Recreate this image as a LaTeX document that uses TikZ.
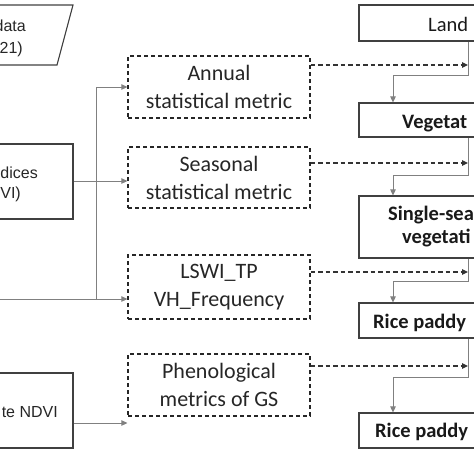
\documentclass[tikz,border=0pt]{standalone}
\usepackage{fontspec}
\setmainfont{Carlito}
\newfontfamily\arialf{Liberation Sans}
\usetikzlibrary{arrows.meta,calc}
\begin{document}
\begin{tikzpicture}[x=1pt,y=-1pt,
  box/.style={draw=black!75,line width=1.1pt,inner sep=0pt},
  dbox/.style={draw=black!85,line width=1.2pt,dash pattern=on 4pt off 3pt,inner sep=0pt,align=center,font=\fontsize{22}{28}\selectfont,text=black!85,minimum width=182,minimum height=62},
  conn/.style={draw=black!50,line width=0.9pt},
  arr/.style={-{Triangle[length=6pt,width=5.5pt]}},
  dconn/.style={draw=black!80,line width=1.1pt,dash pattern=on 4.5pt off 3pt,-{Triangle[length=6pt,width=5.5pt]}},
  lt/.style={font=\arialf\fontsize{16}{19}\selectfont,inner sep=0pt,anchor=base east,text=black!85},
  rt/.style={font=\fontsize{20.5}{24}\selectfont,inner sep=0pt,anchor=base west,text=black!90},
  rtb/.style={rt,font=\bfseries\fontsize{20.5}{24}\selectfont}]

\useasboundingbox (0,0) rectangle (474,474);
\clip (0,0) rectangle (474,474);

% left input boxes
\draw[box] (-60,5) coordinate (par) -- (73,5) -- (57,65) -- (-76,65) -- cycle;
\node[lt] (t1) at (26,31) {data};
\node[lt] (t2) at (23,53) {21)};
\node[box,minimum width=173,minimum height=75] (ind) at (-13.5,181.5) {};
\node[lt] (t3) at (38,178) {dices};
\node[lt] (t4) at (21,198) {VI)};
\node[box,minimum width=173,minimum height=75] (ndvi) at (-13.5,410.5) {};
\node[lt] (t5) at (58,417) {te NDVI};

% middle dashed boxes
\node[dbox] (annual) at (219,87) {Annual\\statistical metric};
\node[dbox,minimum height=61] (seasonal) at (219,177.5) {Seasonal\\statistical metric};
\node[dbox,minimum height=64] (lswi) at (219,287) {LSWI\_TP\\VH\_Frequency};
\node[dbox] (pheno) at (219,385) {Phenological\\metrics of GS};

% right boxes
\node[box,minimum width=241,minimum height=36] (land) at (479.5,23) {};
\node[rt] (tl) at (428,31) {Land};
\node[box,minimum width=241,minimum height=34] (veg) at (479.5,120) {};
\node[rtb] (tv) at (402,128) {Vegetat};
\node[box,minimum width=241,minimum height=62] (single) at (479.5,227) {};
\node[rtb] (ts1) at (388,220) {Single-sea};
\node[rtb] (ts2) at (402,243) {vegetati};
\node[box,minimum width=241,minimum height=35] (rice1) at (479.5,320.5) {};
\node[rtb] (tr1) at (373,328) {Rice paddy};
\node[box,minimum width=241,minimum height=35] (rice2) at (479.5,430.5) {};
\node[rtb] (tr2) at (375,437) {Rice paddy};

% left connectors
\coordinate (src) at (0,299);
\coordinate (jn) at (96,299);
\draw[conn,arr] (src) -- (src -| lswi.west);
\draw[conn,arr] (jn) |- (annual.west);
\draw[conn,arr] ([yshift=0.5pt]ind.east) -- ([yshift=0.5pt]ind.east -| seasonal.west);
\draw[conn,arr] ([yshift=-12.5pt]ndvi.east) -- ([yshift=-12.5pt]ndvi.east -| pheno.west);

% right trunk
\coordinate (bx) at (393,0);
\coordinate (d1) at (468,65);  \coordinate (b1) at (468,75);
\coordinate (d2) at (468,163); \coordinate (b2) at (468,175);
\coordinate (d3) at (468,272); \coordinate (b3) at (468,281);
\coordinate (d4) at (468,366); \coordinate (b4) at (468,377);

\draw[conn,arr] (land.south -| b1) -- (b1) -| (veg.north -| bx);
\draw[conn,arr] (veg.south -| b2) -- (b2) -| (single.north -| bx);
\draw[conn,arr] (single.south -| b3) -- (b3) -| (rice1.north -| bx);
\draw[conn,arr] (rice1.south -| b4) -- (b4) -| (rice2.north -| bx);

\draw[dconn] (annual.east |- d1) -- (d1);
\draw[dconn] (seasonal.east |- d2) -- (d2);
\draw[dconn] (lswi.east |- d3) -- (d3);
\draw[dconn] (pheno.east |- d4) -- (d4);
\end{tikzpicture}
\end{document}
